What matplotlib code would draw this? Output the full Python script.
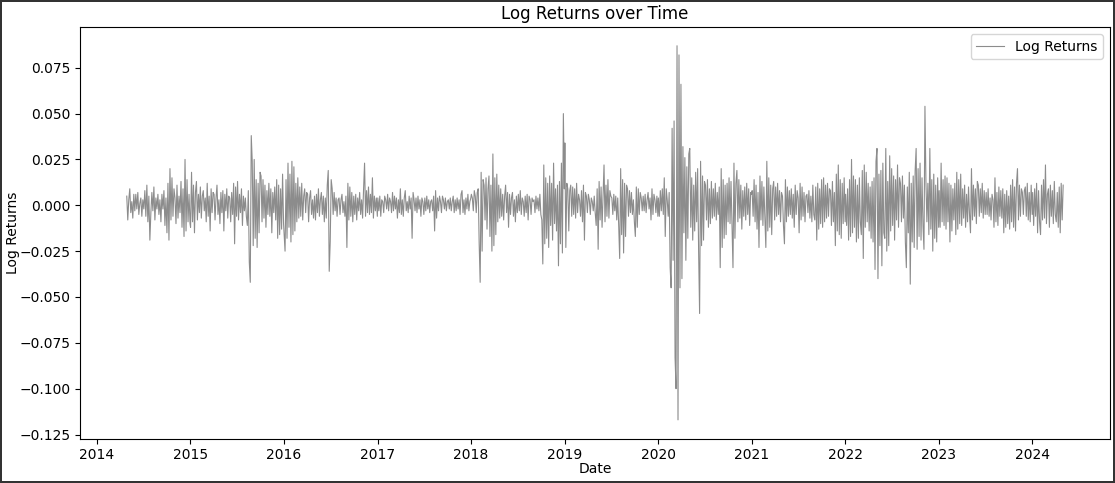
import pandas as pd
import numpy as np
import matplotlib
matplotlib.use('Agg')
import matplotlib.pyplot as plt
import matplotlib.dates as mdates

# log returns, in units of 0.001, ~8 values per month
r2014 = [5, -8, 3, 9, -4, 2, -7, 6,
         -3, 6, -2, 7, -5, 1, 4, -6,
         3, -2, 8, -6, 11, -9, 5, -19,
         -4, 7, -3, 10, -8, 4, -2, 6,
         -5, 3, -9, 6, -2, 8, -11, 4,
         -15, 12, -19, 20, -8, 15, -6, 9,
         4, -10, 11, -7, 5, -4, 13, -12,
         9, -17, 25, -14, 14, -9, 6, -10]
r2015 = [-12, 18, -9, 11, -15, 7, 13, -8,
         6, -4, 10, -7, 5, 8, -3, 4,
         -9, 12, -6, 5, -14, 9, -4, 7,
         6, -8, 4, 11, -5, 3, -10, 7,
         -4, 8, -14, 6, -3, 9, -7, 5,
         4, -9, 7, -5, 12, -21, 10, -6,
         13, -8, 6, -4, 9, -11, 5, -3,
         4, -6, -11, 8, -31, -42, 38, 24,
         -22, 25, -18, 14, -23, 12, -15, 18,
         16, -9, 14, -7, 11, -12, 8, -5,
         12, -6, 9, -15, 7, -4, 10, -8,
         14, -18, 11, -16, 9, -13, 17, -10]
r2016 = [-15, -25, 14, -18, 23, -12, 17, -20,
         24, -16, 21, -14, 12, -9, 15, -7,
         10, -6, 12, -8, 5, 9, -4, 7,
         6, -9, 4, 8, -5, 3, -7, 5,
         -8, 6, -4, 9, -6, 3, 7, -5,
         5, -9, 4, -7, 11, 19, -36, -20,
         14, 9, -5, 7, -3, 4, -6, 3,
         4, -5, 3, 6, -4, 2, -6, 5,
         -23, 12, -8, 10, -6, 7, -9, 5,
         -5, 6, -8, 4, -3, 7, -5, 3,
         -7, 9, 23, -6, 8, -4, 10, -5,
         6, -4, 15, -7, 5, -3, 4, -6]
r2017 = [4, -3, 5, -6, 3, 2, -4, 5,
         3, -2, 6, -3, 4, 2, -4, 7,
         -3, 5, -2, 4, -7, 3, -4, 9,
         -5, 3, -6, 4, 8, -3, 2, -4,
         5, -2, 4, -18, 7, 3, -3, 4,
         -4, 5, -2, 3, -6, 4, 2, -5,
         4, -3, 5, -2, 3, -4, 2, 3,
         -3, 5, -14, 8, -7, 4, -3, 5,
         2, -4, 5, 3, -2, 4, -3, 2,
         3, -2, 4, -3, 2, 5, -4, 3,
         -3, 4, -2, 3, -5, 6, 8, -4,
         3, -5, 4, -2, 6, -3, 2, 4]
r2018 = [6, 4, -3, 8, 5, -4, 7, 9,
         -21, -42, 18, -25, 14, 11, -8, 15,
         -13, 9, 16, -17, 11, -25, 28, -22,
         15, -16, 17, -9, 11, -7, 9, -6,
         6, -8, 5, 11, -4, 7, -12, 6,
         -5, 4, 7, -6, 3, -9, 5, -4,
         6, -3, 8, -5, 4, 2, -6, 5,
         -4, 6, -8, 5, 3, -5, 4, 2,
         3, -4, 5, -2, 4, -3, 6, -5,
         -8, -32, 22, -21, 15, -18, 12, -23,
         16, -11, 12, -19, 23, -10, 9, -14,
         11, -33, 13, -21, 23, -26, 50, 9]
r2019 = [34, -23, 12, 9, -14, 8, 11, -6,
         10, -5, 9, -7, 12, -4, 6, 3,
         -6, 8, -9, 11, -19, 7, 5, -4,
         6, 3, -5, 4, 2, -3, 5, -4,
         -11, 9, -24, 13, -8, 10, -12, 5,
         22, -9, 11, -6, 14, -7, 8, 5,
         4, -5, 6, -3, 5, -8, 4, -11,
         -29, 20, -16, 14, -26, 12, -17, 11,
         9, -6, 8, -4, 7, -5, 3, -9,
         -17, 10, -12, 9, -5, 7, 4, -3,
         5, -3, 6, -4, 3, 7, -2, 4,
         -8, 9, -5, 6, 3, -4, 5, -6]
r2020 = [4, -6, 8, -3, 9, -5, 15, -17,
         9, 3, -6, 7, -34, -45, 42, -30,
         46, -83, -100, 87, -117, 82, -45, 66,
         -40, 32, -15, 26, -30, 21, -18, 28,
         31, -12, 15, -19, 11, -14, 18, -9,
         20, -25, -59, 24, -22, 16, -19, 13,
         11, -8, 14, -12, 9, -10, 13, -7,
         9, -6, 12, -8, 7, -5, 10, -34,
         20, -23, 14, -18, 11, -16, 12, -9,
         15, -10, 13, -11, -34, 23, -18, 12,
         19, -9, 14, -7, 11, -13, 8, -6,
         10, -8, 12, -5, 9, -11, 7, 6]
r2021 = [8, -6, 14, -9, 11, -13, 7, -23,
         16, -8, 13, -11, 10, -7, -23, 24,
         -14, 15, -12, 11, -16, 9, 13, -8,
         10, -6, 12, -5, 8, -9, 7, 5,
         -11, -21, 14, -9, 10, -6, 8, -5,
         9, -7, 6, -12, 11, -5, 8, 4,
         -15, 12, -8, 10, -6, 7, -9, 5,
         6, -4, 8, -7, 5, -9, 11, -5,
         -8, 10, -19, 12, -13, 9, -10, 14,
         -12, 15, -9, 11, -7, 12, -6, 9,
         8, -11, 13, -9, 7, -22, 17, -14,
         22, -16, 14, -18, 12, -10, 15, -9]
r2022 = [6, -11, 9, -19, 14, -17, 25, -15,
         16, -12, 14, -20, 11, -18, 15, -9,
         -16, 19, -29, 22, -12, 18, -9, 12,
         -14, 10, -18, 13, -20, 15, -35, 24,
         31, -40, 17, -22, 19, -33, 23, -15,
         -18, 31, -25, 13, -22, 27, -14, 20,
         -11, 16, -19, 14, -8, 22, -12, 15,
         12, -9, 16, -7, 11, -20, -34, 10,
         -15, 18, -43, 12, -20, 16, -23, 19,
         31, -24, 20, -17, 23, -19, 15, -11,
         -24, 54, 13, -9, 12, -16, 31, -13,
         14, -25, 17, -18, 11, -20, 15, -12]
r2023 = [8, -12, 23, -9, 14, -11, 16, -13,
         15, -9, 12, -20, 11, -14, 9, -8,
         12, -16, 18, -13, 14, -10, 17, -11,
         9, -7, 11, -12, 6, -9, 10, -5,
         -15, 20, -8, 11, -6, 9, -10, 13,
         11, -6, 9, -4, 12, -7, 8, -5,
         7, -5, 9, -6, 4, -8, 6, 3,
         -12, 15, -9, 7, -11, 10, -6, 8,
         -7, 9, -15, 6, -12, 8, -10, 5,
         -13, 11, -9, 14, -12, 10, -14, 12,
         20, -8, 11, -6, 9, 7, -5, 8,
         10, -6, 12, -8, 7, -9, 11, -5]
r2024 = [7, -11, 9, -6, 12, -15, 8, -9,
         -16, 11, -8, 14, -7, 22, -10, 6,
         9, -12, 11, -6, 8, -10, 13, -5,
         -9, 7, -12, 10, -15, 12, -8, 11]

years = {2014: r2014, 2015: r2015, 2016: r2016, 2017: r2017, 2018: r2018,
         2019: r2019, 2020: r2020, 2021: r2021, 2022: r2022, 2023: r2023,
         2024: r2024}

parts = []
for yr, vals in years.items():
    start = '2014-04-28' if yr == 2014 else f'{yr}-01-02'
    end = '2024-04-30' if yr == 2024 else f'{yr}-12-31'
    idx = pd.date_range(start, end, periods=len(vals))
    parts.append(pd.Series(np.array(vals) / 1000.0, index=idx))
log_ret = pd.concat(parts)

fig = plt.figure(figsize=(11.15, 4.83), dpi=100)
fig.patch.set_edgecolor('#333333')
fig.patch.set_linewidth(1.5)
ax = fig.add_axes([0.0717, 0.092, 0.9238, 0.852])
ax.plot(log_ret.index, log_ret.values, color='gray', linewidth=0.8, alpha=0.9, label='Log Returns')
ax.xaxis.set_major_locator(mdates.YearLocator())
ax.xaxis.set_major_formatter(mdates.DateFormatter('%Y'))
ax.set_title('Log Returns over Time')
ax.set_xlabel('Date', labelpad=0)
ax.set_ylabel('Log Returns')
ax.yaxis.set_label_coords(-0.058, 0.5)
ax.legend(loc='upper right')
fig.savefig('out.png')
